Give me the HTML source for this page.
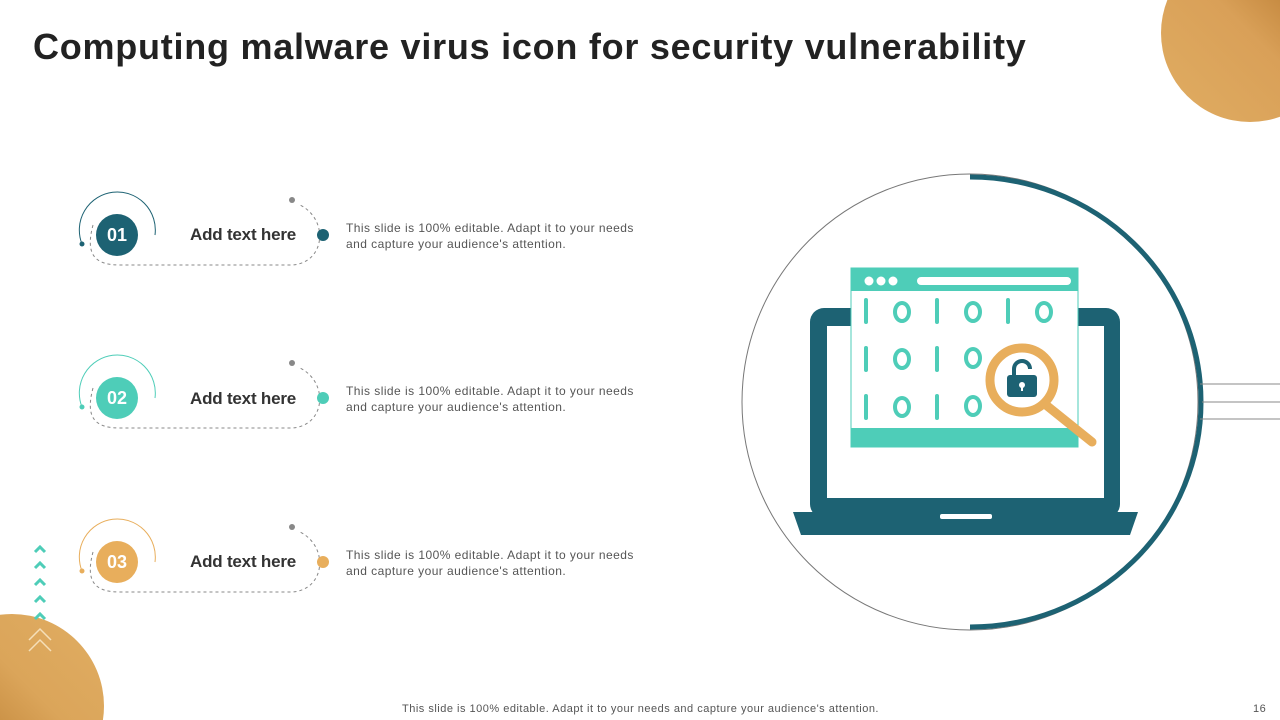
<!DOCTYPE html>
<html><head><meta charset="utf-8"><style>
html,body{margin:0;width:1280px;height:720px;overflow:hidden}
body{background:#fff;font-family:"Liberation Sans",sans-serif;position:relative}
h1{position:absolute;left:33px;top:26px;margin:0;font-size:36px;font-weight:bold;color:#222;letter-spacing:0.75px;white-space:nowrap}
.t{position:absolute;font-size:12px;color:#555;line-height:16px;letter-spacing:0.45px;white-space:nowrap}
.a{position:absolute;font-size:17px;font-weight:bold;color:#333;left:190px;letter-spacing:-0.2px}
</style></head><body>
<svg width="1280" height="720" style="position:absolute;left:0;top:0">
<defs>
<linearGradient id="g" x1="0" y1="1" x2="1" y2="0"><stop offset="0" stop-color="#a8681c"/><stop offset="0.6" stop-color="#dba55a"/><stop offset="1" stop-color="#e0ad62"/></linearGradient>
<linearGradient id="g2" x1="0" y1="1" x2="1" y2="0"><stop offset="0" stop-color="#e0ad62"/><stop offset="0.5" stop-color="#d9a058"/><stop offset="1" stop-color="#a8681c"/></linearGradient>
</defs>
<circle cx="1250" cy="33" r="89" fill="url(#g2)"/>
<circle cx="12" cy="706" r="92" fill="url(#g)"/>
<g fill="none" stroke="#4ecdb8" stroke-width="3">
<path d="M35 552l5-5 5 5M35 568l5-5 5 5M35 585l5-5 5 5M35 602l5-5 5 5M35 619l5-5 5 5"/>
</g>
<path d="M29 640l11-11 11 11M29 651l11-11 11 11" fill="none" stroke="#f5dfb8" stroke-width="1.5"/>
<circle cx="970" cy="402" r="228" fill="#fff" stroke="#777" stroke-width="1"/>
<path d="M970 177 A231 225 0 0 1 970 627" fill="none" stroke="#1d6273" stroke-width="5"/>
<path d="M1200 384H1280M1202 402H1280M1200 419H1280" stroke="#888" stroke-width="1"/>
<rect x="810" y="308" width="310" height="210" rx="14" fill="#1d6273"/>
<rect x="827" y="326" width="277" height="172" fill="#fff"/>
<path d="M793 512H1138L1130 535H801Z" fill="#1d6273"/>
<rect x="940" y="514" width="52" height="5" rx="2" fill="#fff"/>
<rect x="851" y="268" width="227" height="179" fill="#fff" stroke="#4ecdb8" stroke-width="1"/>
<rect x="851" y="268" width="227" height="23" fill="#4ecdb8"/>
<rect x="851" y="428" width="227" height="19" fill="#4ecdb8"/>
<circle cx="869" cy="281" r="4.5" fill="#fff"/><circle cx="881" cy="281" r="4.5" fill="#fff"/><circle cx="893" cy="281" r="4.5" fill="#fff"/>
<rect x="917" y="277" width="154" height="8" rx="4" fill="#fff"/>
<g stroke="#4ecdb8" stroke-width="4" stroke-linecap="round" fill="none">
<path d="M866 300v22M937 300v22M1008 300v22M866 348v22M937 348v22M866 396v22M937 396v22"/>
<ellipse cx="902" cy="312" rx="7" ry="9"/><ellipse cx="973" cy="312" rx="7" ry="9"/><ellipse cx="1044" cy="312" rx="7" ry="9"/>
<ellipse cx="902" cy="359" rx="7" ry="9"/><ellipse cx="973" cy="358" rx="7" ry="9"/>
<ellipse cx="902" cy="407" rx="7" ry="9"/><ellipse cx="973" cy="406" rx="7" ry="9"/>
</g>
<circle cx="1022" cy="380" r="36" fill="#fff"/>
<circle cx="1022" cy="380" r="32" fill="none" stroke="#e8ae5c" stroke-width="9"/>
<path d="M1046 405L1092 442" stroke="#e8ae5c" stroke-width="9" stroke-linecap="round"/>
<rect x="1007" y="375" width="30" height="22" rx="3" fill="#1d6273"/>
<path d="M1014 375v-6a8 8 0 0 1 16 0" fill="none" stroke="#1d6273" stroke-width="4"/>
<circle cx="1022" cy="385" r="3" fill="#fff"/><rect x="1021" y="385" width="2" height="6" fill="#fff"/>
<g>
<path d="M82 244 A38 38 0 1 1 155 235" fill="none" stroke="#1d6273" stroke-width="1"/><circle cx="82" cy="244" r="2.5" fill="#1d6273"/>
<path d="M93 225 C85 255 95 265 120 265 H290 C325 265 330 220 300 205" fill="none" stroke="#888" stroke-dasharray="3,3"/>
<circle cx="292" cy="200" r="3" fill="#888"/><circle cx="323" cy="235" r="6" fill="#1d6273"/>
<circle cx="117" cy="235" r="21" fill="#1d6273"/>
</g>
<g transform="translate(0,163)">
<path d="M82 244 A38 38 0 1 1 155 235" fill="none" stroke="#4ecdb8" stroke-width="1"/><circle cx="82" cy="244" r="2.5" fill="#4ecdb8"/>
<path d="M93 225 C85 255 95 265 120 265 H290 C325 265 330 220 300 205" fill="none" stroke="#888" stroke-dasharray="3,3"/>
<circle cx="292" cy="200" r="3" fill="#888"/><circle cx="323" cy="235" r="6" fill="#4ecdb8"/>
<circle cx="117" cy="235" r="21" fill="#4ecdb8"/>
</g>
<g transform="translate(0,327)">
<path d="M82 244 A38 38 0 1 1 155 235" fill="none" stroke="#e8ae5c" stroke-width="1"/><circle cx="82" cy="244" r="2.5" fill="#e8ae5c"/>
<path d="M93 225 C85 255 95 265 120 265 H290 C325 265 330 220 300 205" fill="none" stroke="#888" stroke-dasharray="3,3"/>
<circle cx="292" cy="200" r="3" fill="#888"/><circle cx="323" cy="235" r="6" fill="#e8ae5c"/>
<circle cx="117" cy="235" r="21" fill="#e8ae5c"/>
</g>
<g font-family="Liberation Sans" font-weight="bold" font-size="18" fill="#fff" text-anchor="middle">
<text x="117" y="241">01</text><text x="117" y="404">02</text><text x="117" y="568">03</text>
</g>
</svg>
<h1>Computing malware virus icon for security vulnerability</h1>
<div class="a" style="top:225px">Add text here</div>
<div class="a" style="top:389px">Add text here</div>
<div class="a" style="top:552px">Add text here</div>
<div class="t" style="left:346px;top:220px">This slide is 100% editable. Adapt it to your needs<br>and capture your audience's attention.</div>
<div class="t" style="left:346px;top:383px">This slide is 100% editable. Adapt it to your needs<br>and capture your audience's attention.</div>
<div class="t" style="left:346px;top:547px">This slide is 100% editable. Adapt it to your needs<br>and capture your audience's attention.</div>
<div class="t" style="left:402px;top:702px;font-size:11px;line-height:14px;letter-spacing:0.5px">This slide is 100% editable. Adapt it to your needs and capture your audience's attention.</div>
<div class="t" style="left:1253px;top:702px;font-size:11px;line-height:14px">16</div>
</body></html>
